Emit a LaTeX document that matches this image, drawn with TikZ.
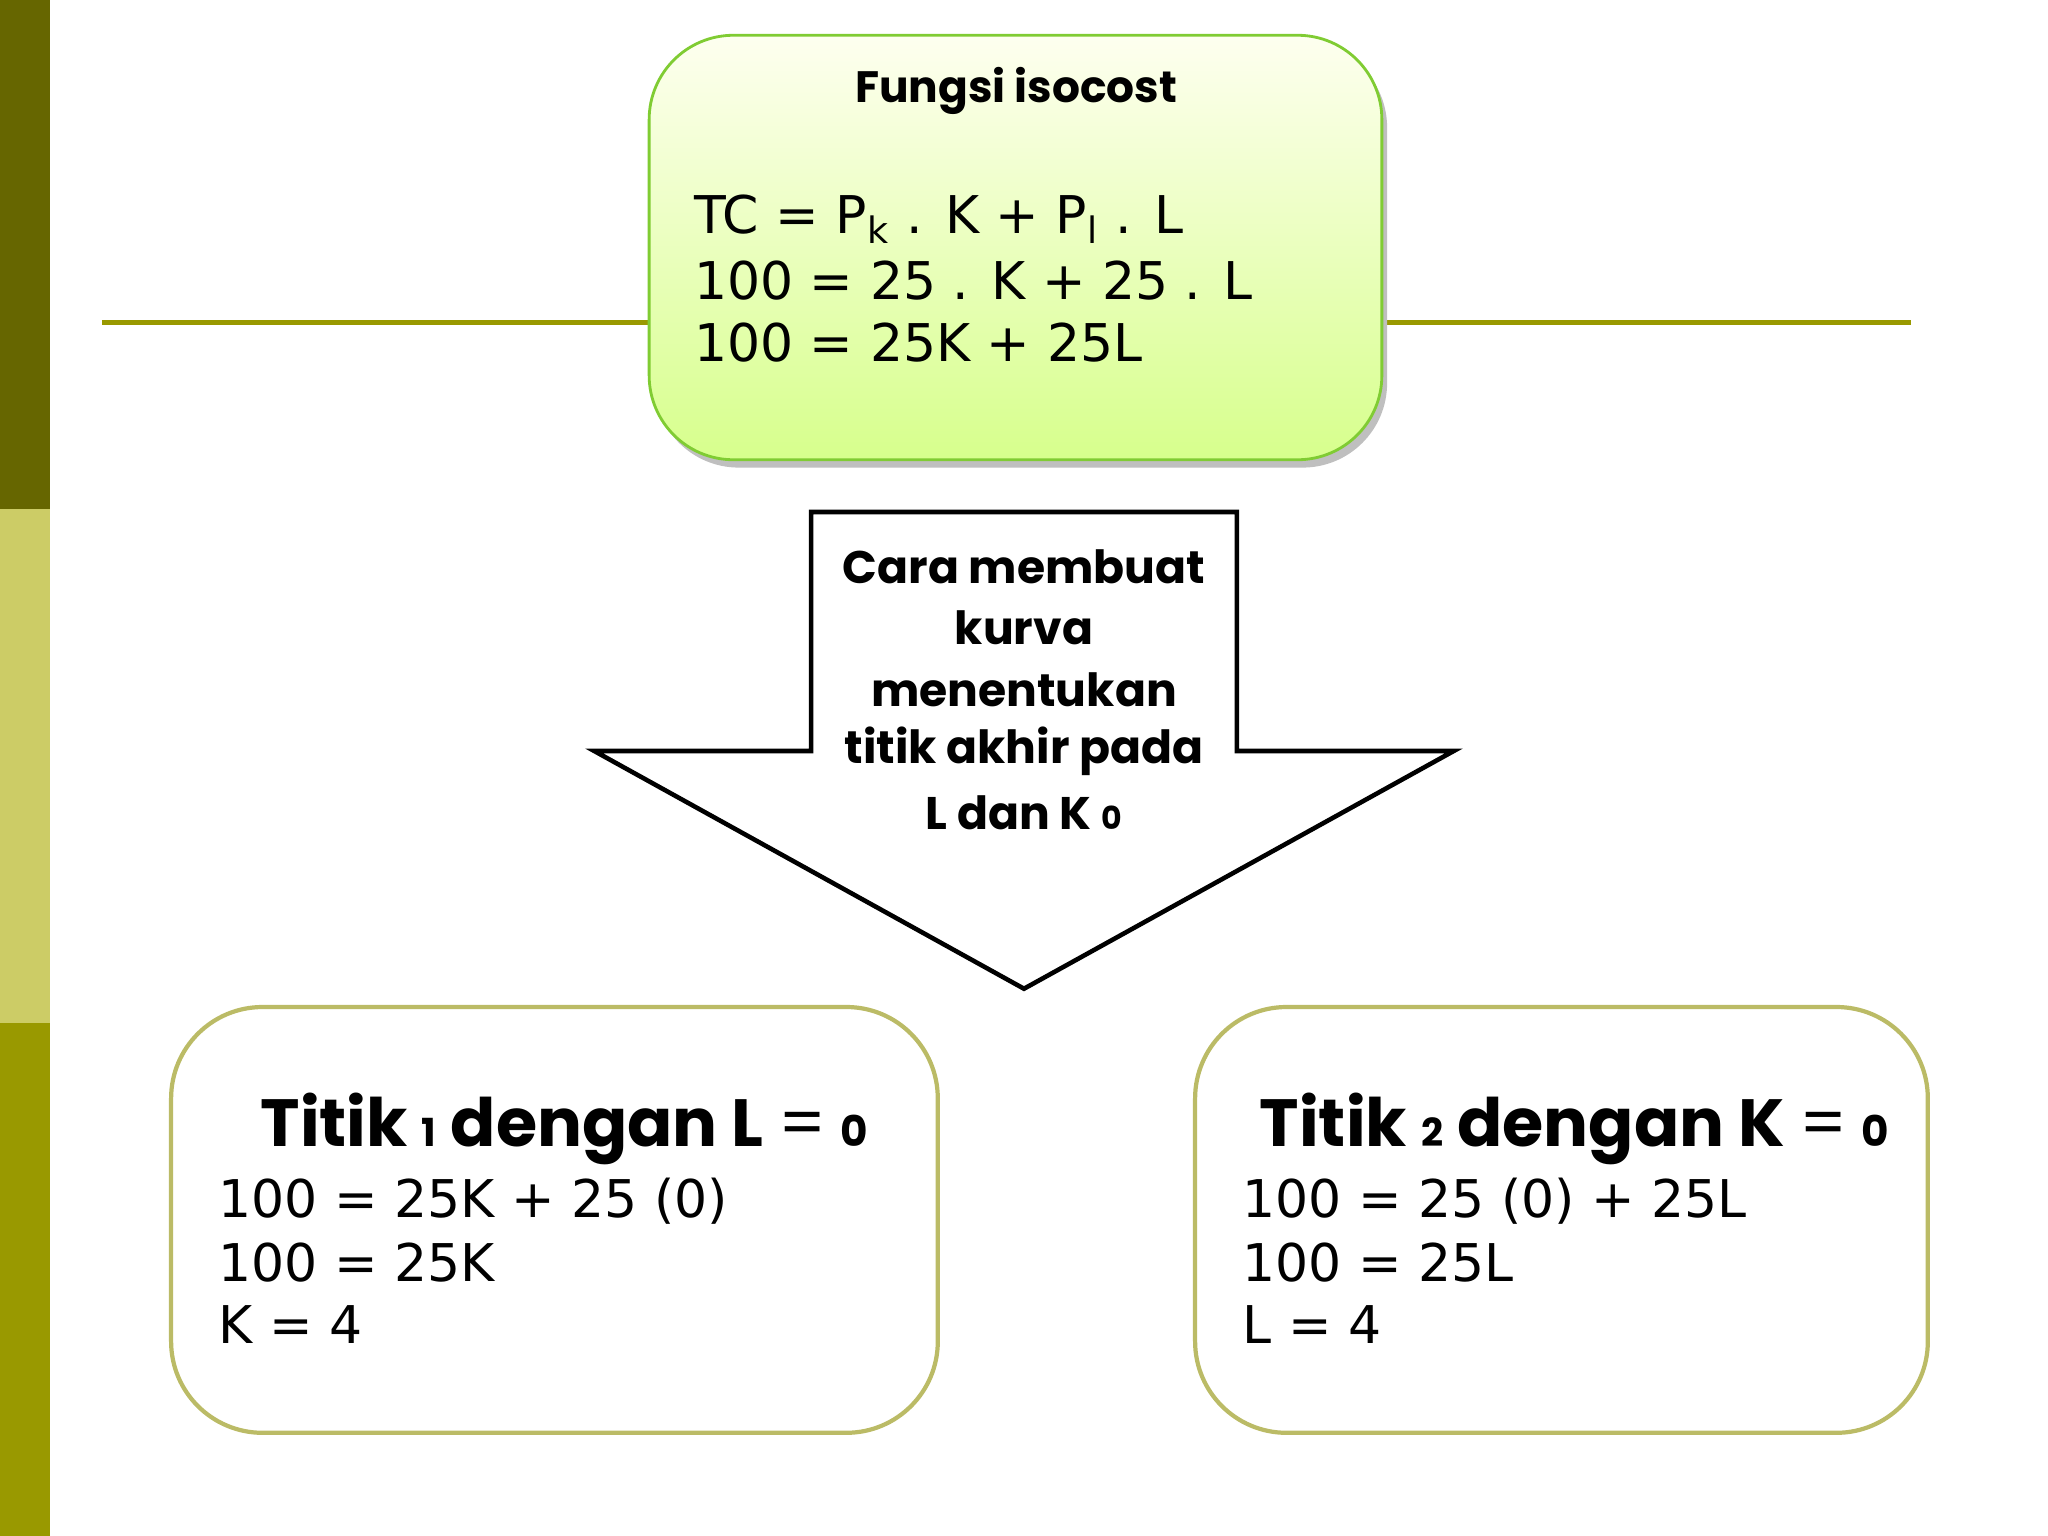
\documentclass[tikz,border=0pt]{standalone}
\usepackage{fontspec}
\setmainfont{DejaVu Sans}
\newfontfamily\hfont{Poppins}
\usetikzlibrary{shadows}
\definecolor{oliveA}{HTML}{666600}
\definecolor{oliveB}{HTML}{CCCC66}
\definecolor{oliveC}{HTML}{999900}
\definecolor{boxedge}{HTML}{BBBB66}
\begin{document}
\begin{tikzpicture}[x=0.013061cm,y=-0.013061cm,
  body/.style={anchor=west,font=\fontsize{14.8}{18}\selectfont},
  arrowtxt/.style={font=\hfont\bfseries\fontsize{13}{16}\selectfont},
  title/.style={anchor=base west,font=\hfont\bfseries\fontsize{19}{24}\selectfont},
  rbox/.style={draw=boxedge,line width=1.2pt,rounded corners=26pt,fill=white}]
\useasboundingbox (0,0) rectangle (1568,1176);
\fill[oliveA] (0,0) rectangle (38,390);
\fill[oliveB] (0,390) rectangle (38,783);
\fill[oliveC] (0,783) rectangle (38,1176);
\draw[oliveC,line width=1.2pt] (78,247) -- (1463,247);
\path[rounded corners=24pt,fill=black!25] (501,33) rectangle (1062,358);
\path[rounded corners=24pt,top color=green!8!yellow!6,bottom color=green!35!yellow!45,draw=green!50!yellow!75!black!80,line width=0.8pt] (497,27) rectangle (1058,352);
\node[font=\hfont\bfseries\fontsize{12.5}{15}\selectfont] (t) at (778,70) {Fungsi isocost};
\node[body] (l1) at (522,168) {TC = P$_{\mathrm{k}}$ . K + P$_{\mathrm{l}}$ . L};
\node[body] (l2) at (522,215) {100 = 25 . K + 25 . L};
\node[body] (l3) at (522,262) {100 = 25K + 25L};
\draw[black,line width=1.3pt,fill=white] (621,392) -- (947,392) -- (947,575) -- (1113,575) -- (784,757) -- (455,575) -- (621,575) -- cycle;
\node[arrowtxt] (a1) at (784,434) {Cara membuat};
\node[arrowtxt] (a2) at (784,481) {kurva};
\node[arrowtxt] (a3) at (784,528) {menentukan};
\node[arrowtxt] (a4) at (784,575) {titik akhir pada};
\node[arrowtxt] (a5) at (784,622) {L dan K {\fontsize{9}{10}\selectfont 0}};
\draw[rbox] (131,771) rectangle (718,1097);
\draw[rbox] (915,771) rectangle (1476,1097);
\node[title] (b1) at (190,878) {Titik {\fontsize{11}{12}\selectfont 1} dengan L {\mdseries =} {\fontsize{12}{13}\selectfont 0}};
\node[body] (b11) at (158,920) {100 = 25K + 25 (0)};
\node[body] (b12) at (158,967) {100 = 25K};
\node[body] (b13) at (158,1014) {K = 4};
\node[title] (b2) at (955,878) {Titik {\fontsize{11}{12}\selectfont 2} dengan K {\mdseries =} {\fontsize{12}{13}\selectfont 0}};
\node[body] (b21) at (942,920) {100 = 25 (0) + 25L};
\node[body] (b22) at (942,967) {100 = 25L};
\node[body] (b23) at (942,1014) {L = 4};
\end{tikzpicture}
\end{document}
